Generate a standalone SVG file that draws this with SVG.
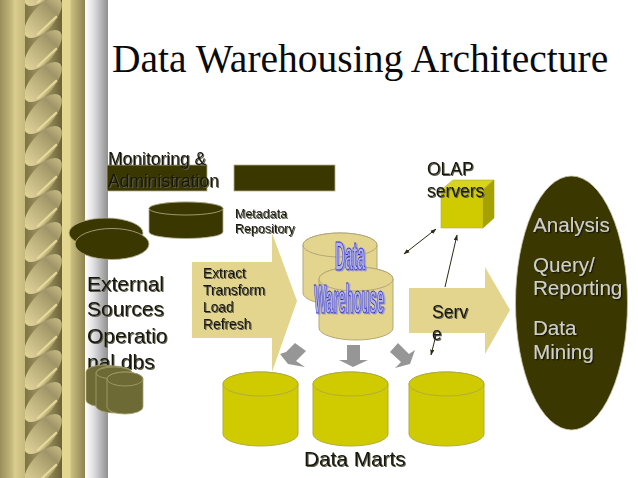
<svg xmlns="http://www.w3.org/2000/svg" width="638" height="478" viewBox="0 0 638 478">
<defs>
<linearGradient id="pl" x1="0" x2="1" y1="0" y2="0"><stop offset="0" stop-color="#9a8f5c"/><stop offset=".45" stop-color="#c4b77c"/><stop offset=".6" stop-color="#dacd8e"/><stop offset="1" stop-color="#c6b97c"/></linearGradient>
<linearGradient id="pr" x1="0" x2="1" y1="0" y2="0"><stop offset="0" stop-color="#e4d892"/><stop offset=".35" stop-color="#e2d58c"/><stop offset=".4" stop-color="#cabd80"/><stop offset="1" stop-color="#8f8450"/></linearGradient>
<linearGradient id="sv" x1="0" x2="1" y1="0" y2="0"><stop offset="0" stop-color="#ffffff"/><stop offset=".35" stop-color="#e2e2e6"/><stop offset="1" stop-color="#8f8f8f"/></linearGradient>
<linearGradient id="rb" x1="0" x2="1" y1="0" y2="0"><stop offset="0" stop-color="#7d7444"/><stop offset=".5" stop-color="#a89c68"/><stop offset="1" stop-color="#6a6136"/></linearGradient>
<linearGradient id="lobe" x1="0" x2="1" y1="0" y2="0"><stop offset="0" stop-color="#dfd29a"/><stop offset=".4" stop-color="#c0b47e"/><stop offset=".75" stop-color="#a09568"/><stop offset="1" stop-color="#c6b982"/></linearGradient>
<g id="strand"><ellipse cx="18" cy="15" rx="25" ry="11.500" transform="rotate(-48 18 15)" fill="url(#lobe)"/><path d="M13 31L31 14" stroke="#eadd9c" stroke-width="2.400" stroke-linecap="round" opacity=".9"/></g>
<pattern id="rope" patternUnits="userSpaceOnUse" x="25" y="3" width="37" height="32"><rect width="37" height="32" fill="url(#rb)"/><use href="#strand" y="-32"/><use href="#strand" y="32"/><use href="#strand"/></pattern>
<filter id="sh" x="-10%" y="-20%" width="125%" height="150%"><feDropShadow dx="1" dy="1" stdDeviation=".25" flood-color="#5c5c48"/></filter>
<filter id="sd" x="-10%" y="-20%" width="125%" height="150%"><feDropShadow dx="1.200" dy="1.200" stdDeviation=".3" flood-color="#15140a"/></filter>
<filter id="blu" x="-10%" y="-20%" width="125%" height="150%"><feDropShadow dx="1.500" dy="1" stdDeviation=".3" flood-color="#8f8fe0"/></filter>
<marker id="ah" viewBox="0 0 10 10" refX="9" refY="5" markerWidth="6" markerHeight="6" orient="auto-start-reverse"><path d="M0 1.500L10 5L0 8.500Z" fill="#2c2a10"/></marker>
</defs>
<style>
.t{font-family:"Liberation Sans",Arial,sans-serif;fill:#14140a;filter:url(#sh)}
.l{font-family:"Liberation Sans",Arial,sans-serif;fill:#cfcfc8;font-size:20.600px;filter:url(#sd)}
.dk{fill:#3b3700;stroke:#b4b090;stroke-width:.8}
.ye{fill:#d0cb00;stroke:#b0ac40;stroke-width:1}
.ol{fill:#6d6a35;stroke:#a5a270;stroke-width:.8}
.ta{fill:#e3d48e;stroke:#b3a878;stroke-width:1}
.ar{fill:#e3d48e}
.gr{fill:#969696}
.cn{fill:none;stroke:#2c2a10;stroke-width:1}
.w{font-family:"Liberation Sans",Arial,sans-serif;font-weight:bold;fill:#b4b4e4;stroke:#2f2fc0;stroke-width:1.100;filter:url(#blu)}
</style>
<rect width="638" height="478" fill="#fff"/>
<g id="background">
<rect x="0" y="0" width="25" height="478" fill="url(#pl)"/>
<rect x="25" y="0" width="37" height="478" fill="url(#rope)"/>
<rect x="62" y="0" width="23" height="478" fill="url(#pr)"/>
<rect x="85" y="0" width="23" height="478" fill="url(#sv)"/>
</g>
<text id="title" x="112" y="72" font-family="'Liberation Serif','Times New Roman',serif" font-size="39.500" fill="#0a0a0a">Data Warehousing Architecture</text>
<g id="monitoring">
<rect class="dk" x="107" y="165" width="100" height="26"/>
<text class="t" font-size="17.500" x="108" y="165">Monitoring &amp;</text>
<text class="t" font-size="17.500" x="108" y="187">Administration</text>
</g>
<rect id="monitor-bar" class="dk" x="234" y="165" width="101" height="26"/>
<g id="metadata-repository">
<path class="dk" d="M149 208.500A37 6.500 0 0 1 223 208.500V232A37 6.500 0 0 1 149 232Z"/>
<ellipse class="dk" cx="186" cy="208.500" rx="37" ry="6.500"/>
<text class="t" font-size="12.500" x="235" y="218">Metadata</text>
<text class="t" font-size="12.500" x="235" y="233">Repository</text>
</g>
<g id="external-sources">
<ellipse class="dk" cx="106" cy="233" rx="37" ry="15"/>
<ellipse class="dk" cx="112" cy="244" rx="37" ry="15.500"/>
<text class="t" font-size="21" x="87" y="291">External</text>
<text class="t" font-size="21" x="87" y="316">Sources</text>
<text class="t" font-size="21" x="87" y="343">Operatio</text>
<text class="t" font-size="21" x="87" y="369">nal dbs</text>
</g>
<g id="operational-dbs">
<path class="ol" d="M86 372A18 7 0 0 1 122 372V400A18 7 0 0 1 86 400Z"/>
<path class="ol" d="M96 373A18 7 0 0 1 132 373V406A18 7 0 0 1 96 406Z"/>
<ellipse class="ol" cx="114" cy="373" rx="18" ry="6"/>
<path class="ol" d="M107 379A18 7 0 0 1 143 379V407A18 7 0 0 1 107 407Z"/>
<ellipse class="ol" cx="125" cy="379" rx="18" ry="7"/>
</g>
<g id="etl-arrow">
<path class="ar" d="M192 262H272V233L297 301L272 372V338H192Z"/>
<text class="t" font-size="13.800" x="203" y="278">Extract</text>
<text class="t" font-size="13.800" x="203" y="295">Transform</text>
<text class="t" font-size="13.800" x="203" y="312">Load</text>
<text class="t" font-size="13.800" x="203" y="329">Refresh</text>
</g>
<g id="data-warehouse">
<path class="ta" d="M303 245A37 12 0 0 1 377 245V293A37 12 0 0 1 303 293Z"/>
<ellipse class="ta" cx="340" cy="245" rx="37" ry="12"/>
<path class="ta" d="M319 279A37 12 0 0 1 393 279V328A37 12 0 0 1 319 328Z"/>
<ellipse class="ta" cx="356" cy="279" rx="37" ry="12"/>
<text class="w" font-size="40" x="335" y="270" textLength="30" lengthAdjust="spacingAndGlyphs">Data</text>
<text class="w" font-size="41" x="314" y="313" textLength="70" lengthAdjust="spacingAndGlyphs">Warehouse</text>
</g>
<g id="serve-arrow">
<path class="ar" d="M409 288H485V267L510 310L485 354V333H409Z"/>
<text class="t" font-size="17.500" x="432" y="318">Serv</text>
<text class="t" font-size="17.500" x="432" y="340">e</text>
</g>
<g id="olap-servers">
<path d="M441 190L453 180H494L483 190Z" fill="#d8d320" stroke="#b0ac40" stroke-width=".6"/>
<path d="M483 190L494 180V218L483 228Z" fill="#a5a100" stroke="#a5a100" stroke-width=".6"/>
<rect x="441" y="190" width="42" height="38" fill="#d0cb00" stroke="#b0ac40" stroke-width=".6"/>
<text class="t" font-size="17.500" x="427" y="175">OLAP</text>
<text class="t" font-size="17.500" x="427" y="197">servers</text>
</g>
<g id="analysis">
<ellipse cx="571.500" cy="303" rx="56" ry="127" fill="#3b3700" stroke="#c8c8b0" stroke-width=".8"/>
<text class="l" x="533" y="232">Analysis</text>
<text class="l" x="533" y="272">Query/</text>
<text class="l" x="533" y="295">Reporting</text>
<text class="l" x="533" y="335">Data</text>
<text class="l" x="533" y="359">Mining</text>
</g>
<g id="data-marts">
<path class="ye" d="M223 384A37.500 12 0 0 1 298 384V434A37.500 12 0 0 1 223 434Z"/>
<ellipse class="ye" cx="260.500" cy="384" rx="37.500" ry="12"/>
<path class="ye" d="M313 384A37.500 12 0 0 1 388 384V434A37.500 12 0 0 1 313 434Z"/>
<ellipse class="ye" cx="350.500" cy="384" rx="37.500" ry="12"/>
<path class="ye" d="M409 384A37.500 12 0 0 1 484 384V434A37.500 12 0 0 1 409 434Z"/>
<ellipse class="ye" cx="446.500" cy="384" rx="37.500" ry="12"/>
<text class="t" font-size="20.800" x="304" y="466">Data Marts</text>
</g>
<g id="connectors">
<path class="gr" d="M295 343L306 351L296 361L305 367L288 364L280 354L286 352Z"/>
<path class="gr" d="M347 345H360V360H368L353 367L339 360H347Z"/>
<path class="gr" d="M398 343L409 354L415 350L410 364L395 368L401 362L390 352Z"/>
<path class="cn" marker-start="url(#ah)" marker-end="url(#ah)" d="M404 254L436 229"/>
<path class="cn" marker-end="url(#ah)" d="M445 287L457 235"/>
<path class="cn" marker-end="url(#ah)" d="M436 335L431 355"/>
</g>
</svg>
